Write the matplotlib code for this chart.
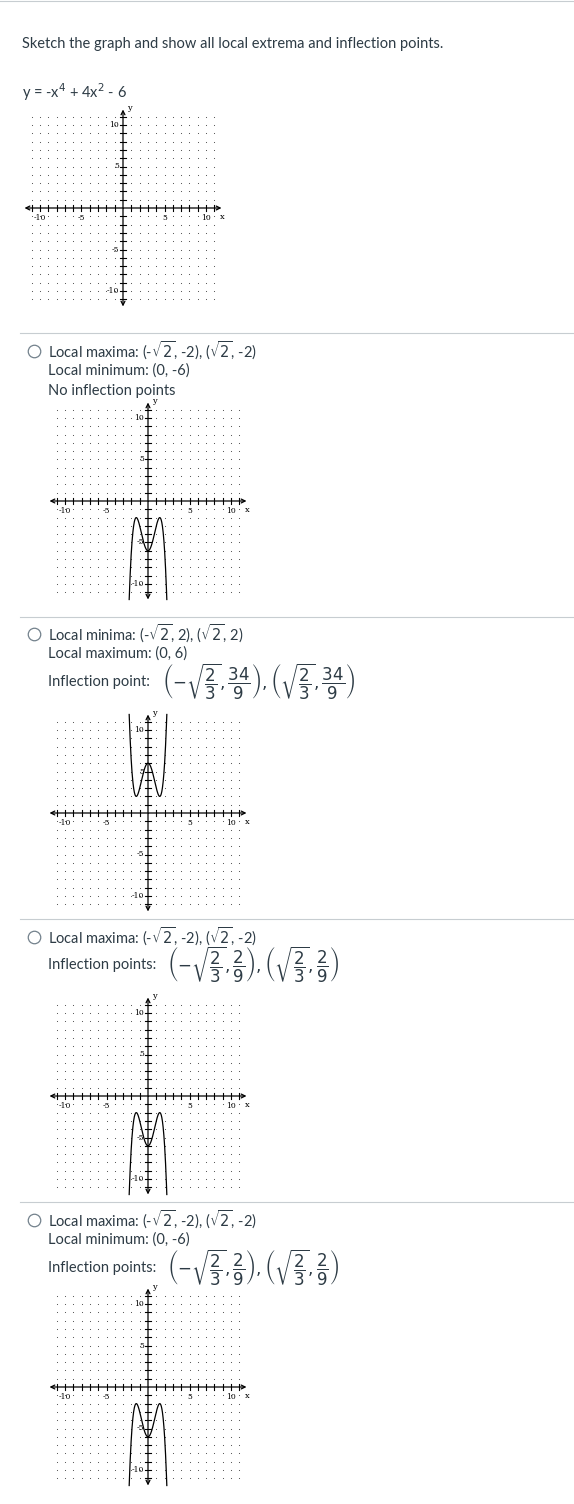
import numpy as np
import matplotlib
matplotlib.use("Agg")
import matplotlib.pyplot as plt

W, H = 574, 1504
question = "Sketch the graph and show all local extrema and inflection points."
equation = r"y = -x$^4$ + 4x$^2$ - 6"
options = [
    ["Local maxima: (-$\\sqrt{2}$, -2), ($\\sqrt{2}$, -2)", "Local minimum: (0, -6)", "No inflection points"],
    ["Local minima: (-$\\sqrt{2}$, 2), ($\\sqrt{2}$, 2)", "Local maximum: (0, 6)", "Inflection point:"],
    ["Local maxima: (-$\\sqrt{2}$, -2), ($\\sqrt{2}$, -2)", "Inflection points:"],
    ["Local maxima: (-$\\sqrt{2}$, -2), ($\\sqrt{2}$, -2)", "Local minimum: (0, -6)", "Inflection points:"],
]
fractions = [None,
             r"$\left(-\sqrt{\dfrac{2}{3}},\dfrac{34}{9}\right),\left(\sqrt{\dfrac{2}{3}},\dfrac{34}{9}\right)$",
             r"$\left(-\sqrt{\dfrac{2}{3}},\dfrac{2}{9}\right),\left(\sqrt{\dfrac{2}{3}},\dfrac{2}{9}\right)$",
             r"$\left(-\sqrt{\dfrac{2}{3}},\dfrac{2}{9}\right),\left(\sqrt{\dfrac{2}{3}},\dfrac{2}{9}\right)$"]
frac_x = [None, 162, 167, 167]
# polynomial coefficients (a4, a2, a0) of curve per graph
curves = [None, (-1, 4, -6), (1, -4, 6), (-1, 4, -6), (-1, 4, -6)]
tick_labels = [-10, -5, 5, 10]

fig = plt.figure(figsize=(W/100, H/100), dpi=100)
plt.rcParams['font.family'] = ['Lato', 'DejaVu Sans']
plt.rcParams['mathtext.fontset'] = 'dejavusans'

def px(x, y):
    return x / W, 1 - y / H

def text(x, y, s, **kw):
    fig.text(*px(x, y), s, fontsize=10.5, color='#2d3b45', va='center', **kw)

def hline(y, x0=20, x1=574):
    fig.add_artist(plt.Line2D([x0/W, x1/W], [1-y/H, 1-y/H], color='#c7cdd1', lw=0.8))

hline(1, 0, 574)
text(22, 44, question)
text(22, 92, equation)

S = 8.3
def graph(ox, oy, coef):
    ax = fig.add_axes([(ox - 12.5*S)/W, (H - oy - 12.5*S)/H, 25*S/W, 25*S/H])
    ax.set_xlim(-12.5, 12.5); ax.set_ylim(-12.5, 12.5); ax.axis('off')
    g = np.arange(-11, 12)
    gx, gy = np.meshgrid(g, g)
    ax.scatter(gx.ravel(), gy.ravel(), s=0.6, c='#444444', lw=0)
    ax.annotate('', xy=(12.2, 0), xytext=(-12.2, 0), arrowprops=dict(arrowstyle='<->', lw=0.9, color='k', mutation_scale=7))
    ax.annotate('', xy=(0, 12.2), xytext=(0, -12.2), arrowprops=dict(arrowstyle='<->', lw=0.9, color='k', mutation_scale=7))
    for t in g:
        if t != 0:
            ax.plot([t, t], [-0.35, 0.35], color='k', lw=0.8)
            ax.plot([-0.35, 0.35], [t, t], color='k', lw=0.8)
    for t in tick_labels:
        ax.text(t, -0.7, str(t), ha='center', va='top', fontsize=5.5, family='DejaVu Serif')
        ax.text(-0.5, t, str(t), ha='right', va='center', fontsize=5.5, family='DejaVu Serif')
    ax.text(12.0, -0.6, 'x', ha='center', va='top', fontsize=6, family='DejaVu Serif')
    ax.text(0.5, 12.0, 'y', ha='left', va='center', fontsize=6, family='DejaVu Serif')
    if coef:
        x = np.linspace(-2.35, 2.35, 400)
        y = coef[0]*x**4 + coef[1]*x**2 + coef[2]
        m = np.abs(y) <= 12
        ax.plot(x[m], y[m], color='k', lw=0.9)

graph(123, 208, curves[0])
blocks = [(351, 501), (634, 813), (937, 1096), (1220, 1387)]
seps = [333, 617, 919, 1202]
for i, ((ty, gy), sep) in enumerate(zip(blocks, seps)):
    hline(sep)
    fig.add_artist(plt.Line2D([34/W], [1-ty/H], marker='o', ms=9, mfc='white', mec='#73818c', mew=0.9, ls='none'))
    n = len(options[i])
    for j, line in enumerate(options[i]):
        yy = ty + 20*j
        if fractions[i] and j == n - 1:
            yy = ty + 20*(j-1) + 28
            text(48, yy, line)
            fig.text(*px(frac_x[i], yy), fractions[i], fontsize=12, color='#2d3b45', va='center')
        else:
            text(48, yy, line)
    graph(148, gy, curves[i+1])

fig.savefig('out.png', dpi=100)
